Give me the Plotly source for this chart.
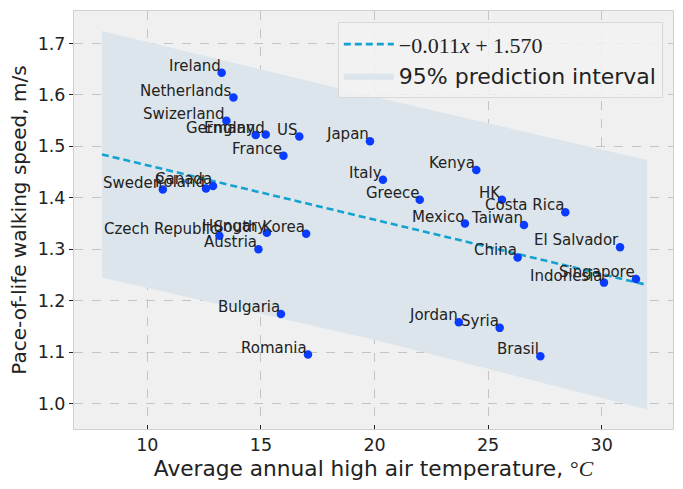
import plotly.graph_objects as go

countries = ["Ireland", "Netherlands", "Swizerland", "Germany", "England", "US", "France",
             "Japan", "Italy", "Kenya", "Greece", "HK", "Costa Rica", "Mexico", "Taiwan",
             "El Salvador", "China", "Singapore", "Indonesia", "Jordan", "Syria", "Brasil",
             "Sweden", "Poland", "Canada", "Czech Republic", "Hungary", "South Korea",
             "Austria", "Bulgaria", "Romania"]
temperature = [13.27, 13.79, 13.48, 14.77, 15.21, 16.69, 15.99,
               19.80, 20.37, 24.48, 21.99, 25.61, 28.40, 23.98, 26.58,
               30.81, 26.30, 31.51, 30.10, 23.71, 25.51, 27.30,
               10.68, 12.58, 12.89, 13.17, 15.26, 16.99,
               14.89, 15.88, 17.07]
speed = [1.643, 1.595, 1.550, 1.522, 1.523, 1.519, 1.482,
         1.510, 1.435, 1.454, 1.396, 1.396, 1.372, 1.350, 1.347,
         1.304, 1.284, 1.242, 1.235, 1.158, 1.147, 1.092,
         1.416, 1.418, 1.423, 1.326, 1.332, 1.330,
         1.300, 1.174, 1.095]

fit_slope = -0.01058
fit_intercept = 1.569
fit_x = [8, 32]

band_x = [8, 20, 32]
band_upper = [1.7245, 1.596, 1.4734]
band_lower = [1.2448, 1.124, 0.988]

x_ticks = [10, 15, 20, 25, 30]
y_ticks = [1.0, 1.1, 1.2, 1.3, 1.4, 1.5, 1.6, 1.7]

FONT = "DejaVu Sans"
fig = go.Figure()

fig.add_trace(go.Scatter(x=band_x, y=band_lower, mode="lines", line=dict(width=0),
                         showlegend=False, hoverinfo="skip"))
fig.add_trace(go.Scatter(x=band_x, y=band_upper, mode="lines", line=dict(width=0),
                         fill="tonexty", fillcolor="#dce5ec",
                         name="95% prediction interval", legendrank=2))

fit_y = [fit_slope * v + fit_intercept for v in fit_x]
fig.add_trace(go.Scatter(x=fit_x, y=fit_y, mode="lines",
                         line=dict(color="#12a3d0", width=2.6, dash="7px,4px"),
                         name="<span style='font-family:Liberation Serif'>−0.011<i>x</i> + 1.570</span>",
                         legendrank=1))

fig.add_trace(go.Scatter(x=temperature, y=speed, mode="markers",
                         marker=dict(color="#0a3cff", size=8.5), showlegend=False))

for name, xv, yv in zip(countries, temperature, speed):
    fig.add_annotation(x=xv, y=yv, text=name, showarrow=False, xanchor="right",
                       yanchor="bottom", yshift=-4, xshift=1,
                       font=dict(family=FONT, size=15, color="#222222"))

fig.update_layout(
    width=683, height=489,
    margin=dict(l=74, r=10, t=11, b=60),
    paper_bgcolor="white", plot_bgcolor="#f0f0f0",
    font=dict(family=FONT, color="#222222"),
    legend=dict(x=0.983, y=0.973, xanchor="right", yanchor="top",
                bgcolor="rgba(242,242,242,0.85)", bordercolor="#d8d8d8", borderwidth=1,
                font=dict(family=FONT, size=22, color="#222222"),
                traceorder="normal", itemwidth=50, tracegroupgap=0),
    showlegend=True,
)
fig.update_xaxes(range=[6.77, 33.14], tickvals=x_ticks, ticktext=[str(t) for t in x_ticks],
                 showgrid=True, gridcolor="#c4c4c4", griddash="dash", gridwidth=1,
                 zeroline=False, showline=True, linecolor="#d0d0d0", mirror=True,
                 ticks="inside", ticklen=4, tickcolor="#222222",
                 tickfont=dict(size=17.5, family=FONT, color="#222222"),
                 title=dict(text="Average annual high air temperature, <span style='font-family:Liberation Serif'>°<i>C</i></span>",
                            font=dict(size=21.7, family=FONT), standoff=6))
fig.update_yaxes(range=[0.9503, 1.7633], tickvals=y_ticks, ticktext=[f"{t:.1f}" for t in y_ticks],
                 showgrid=True, gridcolor="#c4c4c4", griddash="dash", gridwidth=1,
                 zeroline=False, showline=True, linecolor="#d0d0d0", mirror=True,
                 ticks="outside", ticklen=4, tickcolor="#222222",
                 tickfont=dict(size=17.5, family=FONT, color="#222222"),
                 title=dict(text="Pace-of-life walking speed, m/s",
                            font=dict(size=20, family=FONT), standoff=5))

fig.write_html("out.html")
